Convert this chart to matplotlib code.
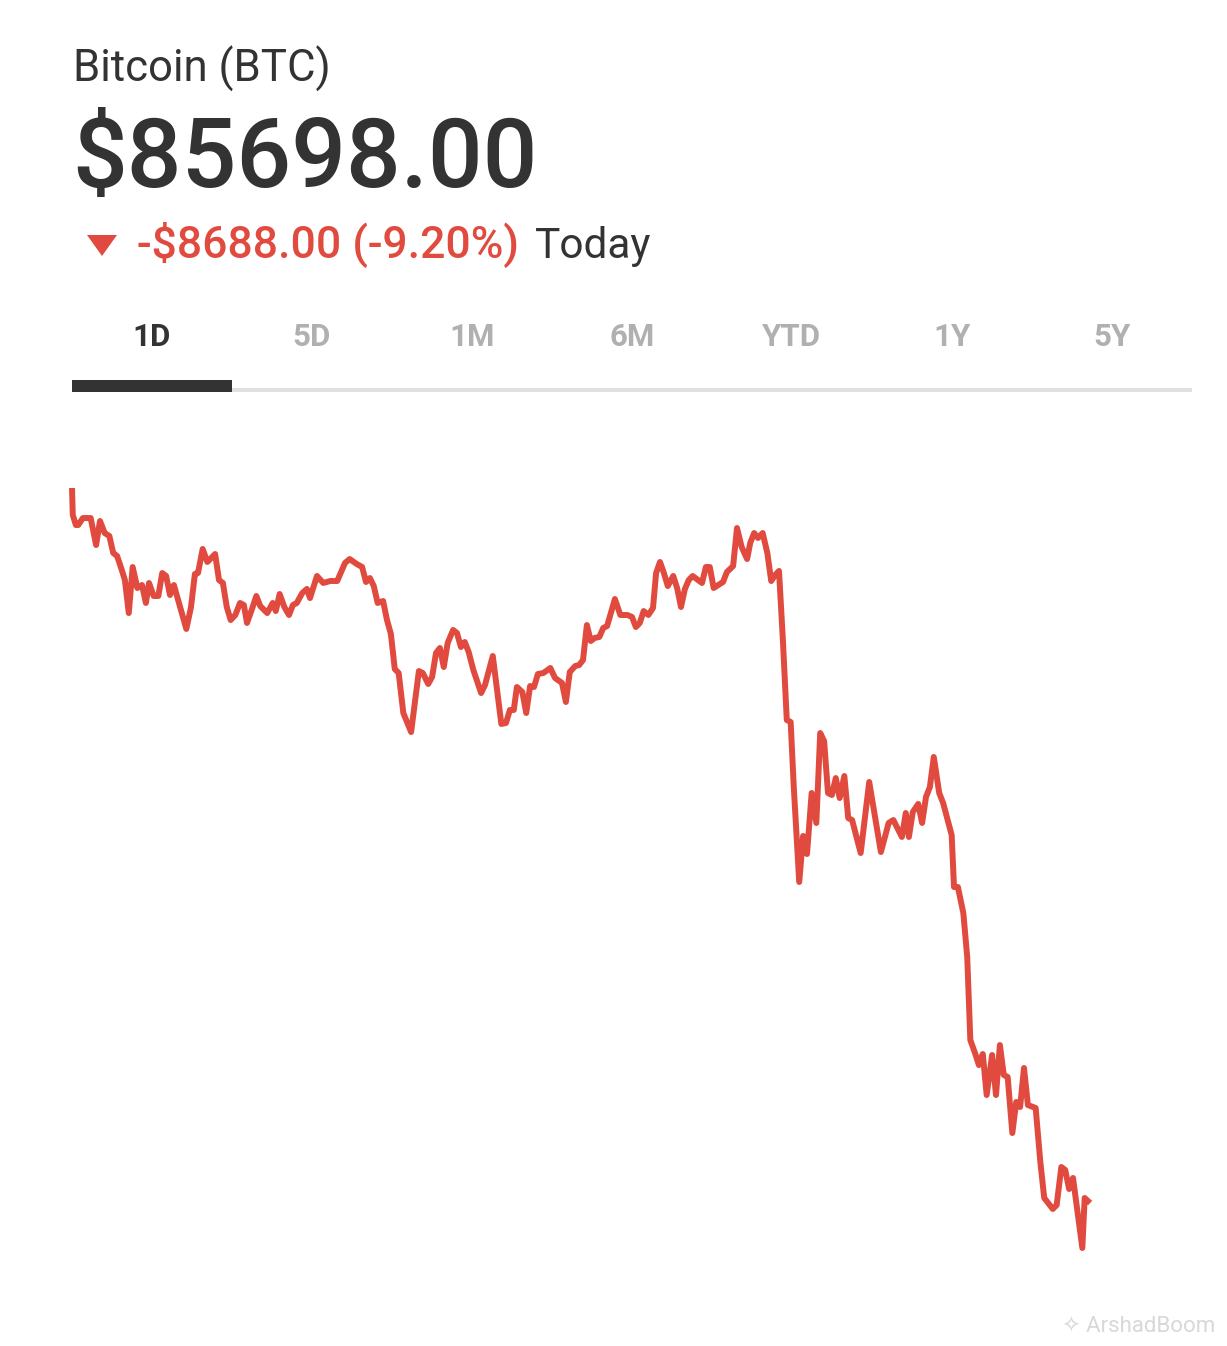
import matplotlib
matplotlib.use("Agg")
import matplotlib.pyplot as plt
from matplotlib.patches import Polygon, Rectangle

# ---------------- data ----------------
title = "Bitcoin (BTC)"
price_text = "$85698.00"
change_text = "-$8688.00 (-9.20%)"
period_text = "Today"
tabs = ["1D", "5D", "1M", "6M", "YTD", "1Y", "5Y"]
active_tab = "1D"

# minutes since the start of the trading day (24h = 1440 min)
minutes = [
    0, 1, 5, 8, 14, 24, 31, 36, 42, 48,
    53, 58, 64, 68, 73, 78, 84, 90, 95, 99,
    105, 111, 116, 121, 126, 131, 139, 147, 153, 158,
    162, 168, 174, 184, 189, 194, 199, 204, 210, 216,
    221, 225, 231, 237, 242, 251, 258, 262, 267, 273,
    279, 284, 289, 296, 302, 306, 315, 323, 332, 341,
    351, 357, 366, 373, 378, 383, 388, 393, 400, 405,
    410, 415, 420, 426, 436, 446, 451, 458, 463, 468,
    473, 478, 483, 490, 495, 500, 505, 510, 516, 526,
    531, 541, 546, 552, 558, 563, 568, 572, 579, 584,
    589, 594, 599, 606, 615, 621, 630, 635, 640, 647,
    652, 657, 662, 667, 672, 678, 683, 688, 698, 705,
    714, 720, 725, 730, 735, 741, 747, 751, 756, 761,
    766, 773, 778, 783, 788, 793, 798, 810, 815, 820,
    825, 831, 837, 842, 850, 855, 861, 868, 872, 877,
    882, 888, 894, 899, 904, 909, 914, 919, 924, 928,
    935, 940, 945, 951, 957, 962, 967, 972, 977, 982,
    987, 993, 998, 1003, 1014, 1025, 1040, 1050, 1056, 1067,
    1072, 1076, 1081, 1088, 1093, 1098, 1103, 1108, 1115, 1120,
    1131, 1134, 1139, 1146, 1151, 1155, 1161, 1166, 1171, 1176,
    1183, 1188, 1193, 1198, 1203, 1209, 1214, 1219, 1224, 1229,
    1239, 1245, 1250, 1261, 1266, 1272, 1277, 1282, 1287, 1299,
    1302, 1309,
]

prices = [
    94386, 94058, 93936, 93936, 94021, 94021, 93693, 93985, 93839, 93803,
    93596, 93560, 93390, 93268, 92867, 93426, 93171, 93207, 92989, 93232,
    93074, 93074, 93353, 93317, 93086, 93207, 92940, 92673, 92940, 93341,
    93353, 93645, 93487, 93584, 93268, 93232, 92940, 92782, 92843, 92989,
    92964, 92746, 92904, 93074, 92952, 92867, 92989, 92891, 93098, 92940,
    92843, 92964, 92989, 93110, 93159, 93049, 93317, 93232, 93256, 93256,
    93475, 93523, 93463, 93426, 93244, 93292, 93195, 92989, 93013, 92782,
    92612, 92187, 92138, 91652, 91421, 92162, 92138, 92005, 92090, 92381,
    92442, 92211, 92503, 92661, 92624, 92454, 92515, 92393, 92175, 91895,
    91992, 92345, 91968, 91519, 91531, 91689, 91689, 91968, 91907, 91652,
    91980, 91968, 92126, 92138, 92199, 92078, 92017, 91786, 92150, 92223,
    92235, 92296, 92721, 92527, 92564, 92576, 92685, 92709, 93037, 92843,
    92843, 92819, 92697, 92746, 92891, 92843, 92928, 93353, 93487, 93353,
    93195, 93317, 93171, 92940, 93159, 93268, 93317, 93232, 93426, 93426,
    93171, 93207, 93244, 93365, 93438, 93900, 93669, 93523, 93718, 93839,
    93779, 93839, 93596, 93256, 93329, 93378, 92539, 91567, 91543, 90753,
    89599, 90158, 89939, 90680, 90316, 91409, 91312, 90680, 90656, 90862,
    90619, 90887, 90376, 90352, 89951, 90814, 89963, 90316, 90352, 90146,
    90437, 90146, 90449, 90547, 90316, 90632, 90753, 91118, 90680, 90559,
    90170, 89538, 89538, 89222, 88688, 87679, 87521, 87375, 87509, 87011,
    87497, 87011, 87618, 87254, 87230, 86549, 86926, 86865, 87339, 86889,
    86853, 86197, 85760, 85626, 85674, 86136, 86100, 85869, 86003, 85152,
    85760, 85698,
]

# ---------------- style ----------------
W, H = 1227, 1346
RED = "#e14b3f"
DARK = "#333333"
GRAY = "#b0b0b0"
FONT = ["Roboto", "DejaVu Sans"]

plt.rcParams["font.family"] = FONT

fig = plt.figure(figsize=(W / 100, H / 100), dpi=100)
fig.patch.set_facecolor("white")


def fx(px):
    return px / W


def fy(py):
    return 1 - py / H


# header
fig.text(fx(73), fy(82), title, fontsize=31.5, color=DARK, va="baseline", ha="left")
fig.text(fx(72), fy(187), price_text, fontsize=69.5, color=DARK, va="baseline",
         ha="left", fontweight="medium")
fig.patches.append(Polygon([(fx(87), fy(235)), (fx(117), fy(235)), (fx(102), fy(256))],
                           closed=True, transform=fig.transFigure, facecolor=RED,
                           edgecolor="none"))
t1 = fig.text(fx(137), fy(258), change_text, fontsize=32, color=RED,
              va="baseline", ha="left", fontweight="medium")
renderer = fig.canvas.get_renderer()
bb = t1.get_window_extent(renderer=renderer)
fig.text((bb.x1 + 16) / W, fy(258), period_text, fontsize=30.5, color=DARK,
         va="baseline", ha="left")

# tabs
tab_w = 160
for i, tab in enumerate(tabs):
    cx = 72 + tab_w * (i + 0.5)
    fig.text(fx(cx), fy(346), tab, fontsize=22.5, ha="center", va="baseline",
             color=DARK if tab == active_tab else GRAY, fontweight="bold")
fig.patches.append(Rectangle((fx(72), fy(392)), fx(1192 - 72), (392 - 388) / H,
                             transform=fig.transFigure, facecolor="#e0e0e0",
                             edgecolor="none"))
fig.patches.append(Rectangle((fx(72), fy(392)), fx(tab_w), (392 - 380) / H,
                             transform=fig.transFigure, facecolor=DARK,
                             edgecolor="none"))

# chart
ax = fig.add_axes([fx(72), fy(1248), fx(1192 - 72), (1248 - 488) / H])
ax.plot(minutes, prices, color=RED, lw=4.3, solid_joinstyle="round",
        solid_capstyle="butt", clip_on=False)
ax.set_xlim(0, 1440)
ax.set_ylim(min(prices), max(prices))
ax.axis("off")

# watermark
fig.text(fx(1215), fy(1333), "\u2727 ArshadBoom", fontsize=16, color="#d8d8d8",
         ha="right", va="baseline")

fig.savefig("out.png", dpi=100, facecolor="white")
